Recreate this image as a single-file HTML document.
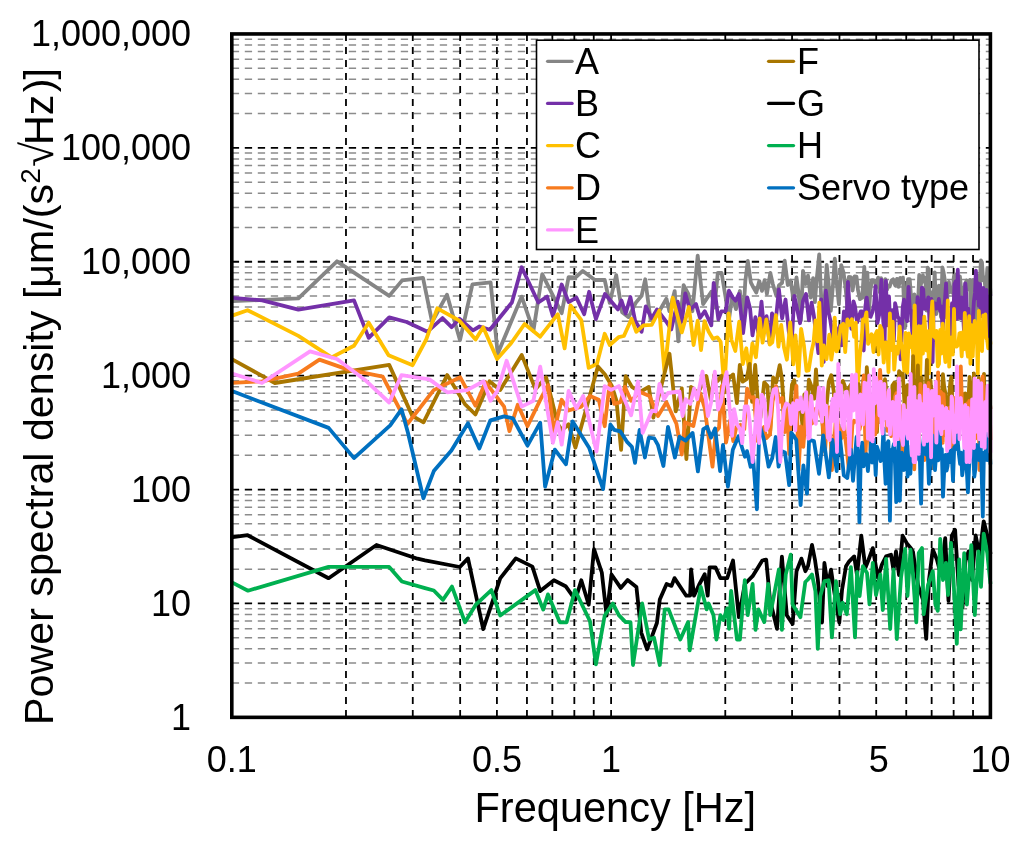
<!DOCTYPE html>
<html><head><meta charset="utf-8"><style>
html,body{margin:0;padding:0;background:#fff;}
svg{display:block;}
text{font-family:"Liberation Sans",Arial,sans-serif;fill:#000;}
</style></head><body>
<svg width="1024" height="846" viewBox="0 0 1024 846">
<rect width="1024" height="846" fill="#fff"/>
<path d="M231.8 683.06H990.4M231.8 663.01H990.4M231.8 648.78H990.4M231.8 637.74H990.4M231.8 628.72H990.4M231.8 621.09H990.4M231.8 614.49H990.4M231.8 608.66H990.4M231.8 569.16H990.4M231.8 549.11H990.4M231.8 534.88H990.4M231.8 523.84H990.4M231.8 514.82H990.4M231.8 507.19H990.4M231.8 500.59H990.4M231.8 494.76H990.4M231.8 455.26H990.4M231.8 435.21H990.4M231.8 420.98H990.4M231.8 409.94H990.4M231.8 400.92H990.4M231.8 393.29H990.4M231.8 386.69H990.4M231.8 380.86H990.4M231.8 341.36H990.4M231.8 321.31H990.4M231.8 307.08H990.4M231.8 296.04H990.4M231.8 287.02H990.4M231.8 279.39H990.4M231.8 272.79H990.4M231.8 266.96H990.4M231.8 227.46H990.4M231.8 207.41H990.4M231.8 193.18H990.4M231.8 182.14H990.4M231.8 173.12H990.4M231.8 165.49H990.4M231.8 158.89H990.4M231.8 153.06H990.4M231.8 113.56H990.4M231.8 93.51H990.4M231.8 79.28H990.4M231.8 68.24H990.4M231.8 59.22H990.4M231.8 51.59H990.4M231.8 44.99H990.4M231.8 39.16H990.4" stroke="#8c8c8c" stroke-width="1.5" stroke-dasharray="7.3 5.7" fill="none"/>
<path d="M231.8 603.45H990.4M231.8 489.55H990.4M231.8 375.65H990.4M231.8 261.75H990.4M231.8 147.85H990.4" stroke="#000" stroke-width="1.8" stroke-dasharray="7.3 5.7" fill="none"/>
<path d="M345.98 33.95V717.35M412.77 33.95V717.35M460.16 33.95V717.35M496.92 33.95V717.35M526.95 33.95V717.35M552.35 33.95V717.35M574.34 33.95V717.35M593.74 33.95V717.35M611.10 33.95V717.35M725.28 33.95V717.35M792.07 33.95V717.35M839.46 33.95V717.35M876.22 33.95V717.35M906.25 33.95V717.35M931.65 33.95V717.35M953.64 33.95V717.35M973.04 33.95V717.35" stroke="#000" stroke-width="1.8" stroke-dasharray="7.1 5.9" fill="none"/>
<g fill="none" stroke-width="3.8" stroke-linejoin="round" stroke-linecap="round">
<path d="M232.9 301.2 298.4 298.4 337.0 261.3 389.2 295.9 402.2 280.4 423.0 277.8 432.1 322.0 447.0 294.7 460.0 340.2 472.4 284.3 490.6 282.3 497.7 353.8 521.7 296.6 533.4 330.8 542.2 274.2 561.7 313.2 568.6 277.1 575.4 277.5 582.8 270.9 594.9 280.0 604.7 280.0 609.7 302.9 616.2 275.1 622.1 312.3 628.6 317.1 635.7 302.9 641.6 295.8 645.2 279.3 650.5 319.4 659.3 311.2 666.4 298.8 669.4 311.2 674.7 291.1 678.3 341.3 683.6 285.2 688.3 294.0 692.4 311.2 697.7 255.6 703.1 304.1 711.3 291.7 714.5 307.5 717.8 272.9 721.6 273.0 725.8 298.5 728.6 322.5 732.1 296.5 736.0 309.1 739.9 291.0 742.8 325.0 745.3 281.3 747.8 260.9 750.9 282.7 753.6 287.8 756.3 292.5 759.3 281.1 762.0 290.9 764.6 280.1 766.9 294.0 770.3 273.0 772.8 284.0 776.4 295.9 779.0 285.3 782.0 283.0 784.7 260.7 787.8 285.0 790.6 280.6 793.8 301.6 796.5 277.5 798.4 291.6 800.9 320.3 803.0 270.8 805.7 284.0 808.0 275.7 810.7 297.6 813.1 278.2 814.9 302.2 816.7 279.3 819.2 254.4 821.3 299.5 824.2 307.4 826.7 264.9 828.6 283.4 830.8 310.8 833.0 284.6 834.8 258.6 836.4 279.9 838.9 304.4 841.2 265.1 843.6 272.9 845.5 287.3 847.1 304.0 848.8 277.0 850.8 277.1 852.6 290.5 854.6 276.4 856.5 276.6 858.0 290.2 859.9 299.1 862.2 297.6 864.3 267.0 865.9 302.1 867.4 272.7 868.7 316.2 870.3 291.1 871.8 280.2 873.2 280.2 874.6 280.8 876.2 287.0 878.1 277.6 879.8 292.3 881.1 278.2 882.5 299.4 883.9 304.0 885.3 279.2 887.1 289.4 888.3 285.6 889.7 286.5 891.5 280.6 893.2 279.3 895.2 285.3 897.0 278.9 898.7 286.8 900.2 277.8 901.8 282.5 903.0 277.7 904.9 328.2 906.2 296.3 908.0 279.1 909.7 279.1 910.8 293.5 912.6 316.4 914.4 294.3 915.9 302.6 917.6 315.8 919.2 275.0 920.5 286.4 921.7 280.9 922.9 275.2 924.0 281.7 925.4 277.9 926.6 310.7 927.7 267.7 928.8 269.7 930.4 328.6 931.6 292.3 933.1 310.1 934.7 272.4 936.2 314.1 937.5 298.2 938.9 285.7 939.9 303.5 941.0 317.2 942.4 267.4 943.6 272.5 944.8 280.0 946.1 317.3 947.6 292.8 948.9 281.9 949.8 292.2 951.3 287.6 952.7 293.0 953.9 276.2 955.3 274.6 956.3 300.3 957.2 283.3 958.5 319.1 959.9 276.4 961.2 289.2 962.5 309.3 963.4 287.6 964.4 289.1 965.3 283.4 966.7 280.4 967.7 289.4 968.6 285.4 970.0 279.9 971.0 319.4 972.0 280.6 973.0 280.0 974.1 286.5 975.0 330.1 975.9 288.4 977.1 275.4 977.9 289.6 979.2 326.1 980.0 279.3 980.9 260.4 982.0 262.5 983.1 280.3 984.2 277.2 985.1 285.3 986.0 291.6 987.3 268.5 988.4 292.3 989.6 277.1 990.4 293.5" stroke="#858585"/><path d="M232.9 297.9 262.2 300.4 298.4 309.6 354.0 300.4 368.7 337.9 389.2 317.4 406.7 322.0 427.5 331.7 442.5 318.1 451.6 327.2 459.4 318.7 473.0 330.4 479.5 326.5 489.9 329.8 511.9 302.5 521.7 267.3 538.3 302.5 547.1 296.6 552.9 316.2 561.7 284.5 568.6 302.1 576.4 297.6 584.2 314.2 589.1 291.8 595.9 319.1 605.0 294.0 618.0 309.4 621.5 300.5 625.7 313.5 630.4 297.0 635.1 320.6 641.6 331.8 645.8 306.4 651.7 318.3 657.0 309.4 666.4 321.8 671.2 329.5 677.7 301.7 681.8 321.8 685.3 293.4 690.0 310.0 696.0 304.1 700.0 318.0 704.8 311.2 711.3 325.3 713.7 282.8 718.4 319.4 721.4 311.4 725.7 311.1 728.9 290.7 732.7 297.5 735.6 300.7 738.9 294.1 743.1 333.0 747.2 297.3 750.1 308.8 752.5 335.4 755.4 317.2 758.3 332.5 761.5 301.6 764.2 331.1 766.6 316.2 769.6 343.8 772.0 313.4 775.5 323.1 778.9 289.3 782.1 318.3 785.5 299.5 788.8 331.8 791.7 342.8 794.3 295.8 797.4 310.3 800.0 323.2 803.0 300.9 806.0 293.9 808.9 320.4 811.6 302.7 813.8 315.2 816.4 336.8 818.4 353.2 821.2 299.3 823.7 362.0 825.9 290.7 828.3 311.1 830.3 320.2 832.9 337.6 835.2 347.8 837.5 331.0 840.1 325.7 841.7 345.3 843.9 311.5 846.3 327.8 847.9 281.9 849.7 308.6 851.4 328.8 853.5 301.4 855.0 306.4 857.1 322.4 858.6 317.2 860.7 311.5 862.2 311.5 863.7 350.5 865.3 306.7 866.7 297.6 868.9 315.6 870.6 316.8 872.5 311.8 874.1 304.3 875.5 286.2 877.4 323.2 879.5 313.4 881.4 280.0 883.0 316.5 884.6 341.9 885.9 280.8 887.3 325.3 889.0 296.5 890.3 327.1 892.3 310.2 893.9 339.7 895.1 303.1 896.3 308.2 897.5 316.2 899.2 319.1 900.7 359.4 902.7 307.2 904.0 299.6 905.6 316.4 907.2 321.1 908.5 287.0 909.9 309.3 911.1 310.5 912.5 336.3 913.7 332.1 914.9 316.9 916.1 324.3 917.6 297.1 919.1 314.5 920.3 354.9 921.9 287.6 923.2 289.3 924.3 308.8 925.6 300.3 926.7 308.6 928.3 297.3 929.9 328.9 931.3 298.8 932.6 362.0 933.6 307.1 934.8 303.2 936.3 308.6 937.6 307.3 938.8 298.9 940.1 311.0 941.1 306.4 942.7 329.3 943.7 310.1 945.0 299.1 946.1 283.5 947.3 317.5 948.3 315.6 949.7 315.3 951.1 340.3 952.0 303.2 953.3 315.0 954.5 284.0 955.6 281.6 956.6 319.1 957.8 269.7 959.2 316.4 960.6 318.0 961.6 297.5 962.7 308.0 964.0 330.9 965.3 283.5 966.2 293.7 967.3 320.5 968.3 308.6 969.2 346.6 970.6 331.5 971.8 320.7 972.7 321.2 973.9 301.4 975.0 292.9 975.9 270.6 977.1 298.5 977.9 283.2 978.8 305.8 980.1 284.2 981.1 316.2 982.4 313.8 983.3 287.8 984.3 335.7 985.5 313.3 986.4 289.8 987.3 306.9 988.4 338.0 989.4 298.3 990.4 295.1" stroke="#7430A8"/><path d="M232.9 315.4 247.6 310.2 298.4 335.9 331.6 357.4 354.0 345.7 368.7 322.7 388.6 355.2 412.6 365.2 426.2 339.5 437.3 308.3 459.4 320.7 475.6 339.5 483.2 327.2 497.1 359.0 510.9 343.5 524.6 324.0 540.2 336.7 557.8 314.2 564.6 348.4 570.5 305.4 581.3 320.1 588.7 367.9 596.9 364.0 604.7 333.8 609.7 345.0 618.6 337.2 623.9 336.0 631.6 318.8 636.3 331.8 643.4 325.3 651.7 324.8 659.3 310.6 664.5 371.8 672.7 297.6 681.8 332.4 688.9 307.0 693.6 345.0 697.7 320.6 701.0 350.0 704.5 321.2 708.7 331.8 712.9 338.7 717.4 337.3 720.7 341.9 724.4 388.0 728.6 313.3 731.5 340.0 735.3 351.0 739.2 321.7 742.8 364.2 746.3 348.3 749.2 371.9 752.4 343.4 755.9 357.2 759.7 318.5 762.6 342.7 766.3 319.5 769.8 344.6 772.3 342.3 775.9 315.1 778.4 346.7 781.2 325.0 784.1 347.9 786.9 359.7 790.2 322.4 793.3 364.3 795.5 335.4 798.5 375.9 801.1 328.8 803.9 345.3 806.5 370.9 808.6 370.5 811.6 351.1 813.5 342.9 815.5 320.4 817.6 341.4 819.3 302.7 821.8 365.6 823.8 345.4 826.5 359.2 829.3 334.7 831.3 359.7 832.9 349.0 834.7 317.6 836.5 351.4 838.1 348.3 840.7 326.4 843.2 323.7 845.2 352.0 847.4 319.4 849.5 325.1 851.9 319.3 854.1 336.8 855.8 322.6 857.7 387.3 859.7 357.3 861.6 339.1 863.0 319.5 864.5 321.5 866.4 312.4 868.1 343.9 870.1 337.6 871.5 334.3 873.5 352.0 875.2 335.0 877.0 331.0 878.6 354.5 880.2 326.0 881.8 329.8 883.7 362.6 885.6 342.3 887.1 344.1 888.5 372.2 889.9 313.5 891.2 350.0 892.7 321.7 894.2 369.7 896.1 346.8 897.8 353.6 899.7 326.5 900.9 342.6 902.5 351.1 904.3 371.0 905.6 332.8 907.2 372.9 908.9 333.4 910.2 347.0 911.9 336.5 913.3 356.3 914.7 305.4 915.9 362.1 917.0 376.0 918.8 326.1 920.1 380.9 921.3 326.4 922.9 353.6 924.3 316.6 925.5 332.0 926.6 350.6 928.0 331.5 929.1 373.4 930.7 325.1 932.3 301.4 933.9 336.5 935.4 337.7 936.4 331.0 937.8 366.4 939.0 364.0 940.2 330.0 941.3 353.5 942.7 323.7 943.9 347.0 945.4 362.0 946.4 350.6 947.8 300.5 949.2 366.7 950.7 340.6 951.6 337.4 952.8 354.7 954.0 309.0 954.9 345.1 955.8 346.5 956.7 346.6 958.2 344.5 959.4 333.5 960.4 332.9 961.7 356.3 962.9 332.1 963.9 349.3 964.8 312.9 965.9 329.9 966.8 347.8 968.0 356.7 969.2 316.2 970.4 363.8 971.5 325.1 972.7 356.3 973.7 332.9 974.7 321.0 975.8 337.4 976.8 333.3 977.8 373.5 978.8 310.9 980.1 343.7 981.1 326.3 982.0 351.1 983.2 315.5 984.4 325.4 985.4 314.5 986.3 338.4 987.1 339.0 988.2 348.3 989.1 342.4 990.3 341.9 990.4 343.9" stroke="#FFC000"/><path d="M232.7 359.6 274.9 383.0 389.2 364.9 412.3 415.9 423.5 422.3 447.2 375.1 464.9 404.1 475.4 414.5 489.5 381.3 500.2 390.0 521.7 354.9 535.4 389.1 546.1 377.3 557.8 424.2 562.0 430.0 568.6 424.2 575.4 447.7 597.9 366.6 605.0 374.6 611.9 386.1 616.5 400.7 621.1 449.8 625.7 376.1 631.9 386.9 640.0 392.0 648.8 386.9 653.4 417.6 663.4 377.6 669.5 353.8 675.7 411.4 681.8 388.4 686.4 459.1 691.0 386.9 698.0 393.0 706.4 376.1 710.9 399.9 714.4 374.6 717.2 381.4 721.5 375.8 724.9 392.3 729.1 378.5 733.1 374.4 736.9 403.1 739.8 364.8 742.7 381.6 746.6 379.2 749.6 363.9 752.1 401.9 755.2 364.8 757.7 400.0 760.5 417.5 764.2 382.4 767.4 385.7 770.2 430.7 773.1 377.5 776.2 382.4 779.7 365.1 781.8 378.0 784.3 412.0 787.1 426.0 789.8 413.3 792.0 384.6 794.2 380.2 796.8 400.4 799.8 402.1 802.6 426.2 804.4 394.4 806.7 414.7 808.9 379.7 811.2 385.7 814.1 398.6 816.0 369.4 818.2 407.4 821.0 393.7 823.8 448.0 826.2 409.1 828.8 381.8 831.3 375.3 833.7 391.0 835.7 421.5 837.6 410.2 839.7 395.8 841.2 384.0 842.9 380.9 844.7 385.6 846.7 407.4 848.6 388.5 851.0 384.5 852.9 386.0 854.8 406.4 856.6 409.5 858.8 384.1 861.1 421.0 863.4 379.5 865.1 414.0 866.8 367.2 869.0 397.6 870.6 417.1 872.0 395.9 873.4 396.6 875.3 387.7 877.0 432.2 878.3 383.9 879.8 422.0 881.4 388.6 883.4 404.9 885.0 379.1 886.3 390.2 888.1 404.7 889.8 413.7 891.1 418.7 892.4 385.6 894.4 382.5 896.1 394.0 897.9 388.8 899.1 371.2 901.0 373.4 902.8 373.8 904.6 406.3 905.8 438.9 907.3 385.2 909.0 385.3 910.6 402.7 911.8 414.9 913.1 356.1 914.9 432.5 916.2 418.0 917.9 365.5 919.0 417.3 920.1 409.7 921.6 377.4 922.6 407.2 923.7 415.6 925.4 403.0 926.9 359.9 928.2 427.8 929.3 414.0 930.6 380.5 931.7 403.9 932.7 394.7 934.1 398.2 935.2 397.0 936.5 410.4 937.7 401.4 939.1 413.4 940.6 390.8 941.8 405.1 942.9 374.2 944.2 387.1 945.2 392.3 946.4 417.4 947.6 425.6 948.9 399.3 950.3 382.1 951.4 377.0 952.7 412.0 954.0 398.3 955.1 405.4 956.5 402.2 957.4 398.3 958.5 393.1 959.4 373.3 960.4 392.8 961.6 415.5 962.7 394.2 964.0 408.7 965.2 393.3 966.1 445.7 967.0 439.0 968.4 400.7 969.6 376.9 970.8 396.9 971.7 422.7 973.0 407.6 973.9 373.5 975.1 400.2 976.3 437.8 977.6 395.0 978.8 378.0 979.7 398.0 980.7 399.1 981.5 406.2 982.8 400.4 984.0 373.9 984.8 417.2 985.7 409.5 986.4 402.3 987.6 425.6 988.5 416.4 989.3 393.1 990.4 408.4" stroke="#A87600"/><path d="M232.7 382.8 262.0 381.3 298.3 373.7 319.4 359.6 348.0 369.6 382.7 376.7 407.4 424.0 433.7 390.1 460.1 377.2 475.4 405.7 485.5 382.2 504.1 406.6 509.4 431.1 517.8 404.7 527.5 426.2 542.2 395.9 548.0 385.2 553.9 432.0 561.7 399.8 568.6 410.5 581.3 406.6 590.0 395.9 598.8 399.8 604.7 426.2 609.6 383.8 614.2 403.8 620.4 402.2 625.0 386.9 631.1 400.7 640.0 392.0 649.5 396.1 658.0 416.0 666.4 402.2 676.4 423.7 681.8 454.5 684.9 422.2 693.3 426.0 700.2 393.0 704.8 408.4 712.5 466.7 715.8 431.8 719.0 427.8 721.9 386.0 726.1 442.5 730.2 420.1 733.3 441.2 736.3 427.1 740.4 424.8 744.3 429.1 747.1 388.6 750.1 397.6 753.9 397.2 757.6 441.0 761.0 431.4 764.0 427.0 766.4 438.2 770.0 434.5 772.6 401.2 776.1 386.2 779.4 401.9 782.2 397.8 784.8 432.0 787.1 406.8 789.2 454.2 791.2 407.8 793.9 407.7 796.4 385.9 798.6 470.0 801.0 426.4 803.3 446.8 805.6 417.3 808.1 403.0 811.0 424.0 813.1 422.4 815.7 408.7 817.9 409.8 819.8 413.2 822.3 419.6 825.0 452.2 827.8 410.3 829.4 407.4 831.9 470.0 834.0 446.6 836.4 409.8 838.3 426.6 840.0 440.2 842.0 437.2 843.5 414.4 845.1 436.7 847.0 451.8 848.8 469.2 850.7 453.8 852.4 424.9 854.0 420.7 856.1 421.8 858.0 423.2 859.7 429.3 861.6 417.9 863.7 375.3 865.6 453.6 867.1 414.0 868.9 421.3 870.5 450.3 872.3 397.3 873.6 417.6 875.1 434.6 876.6 426.4 878.0 411.1 880.1 369.8 881.7 397.0 883.7 400.7 885.6 392.9 887.3 430.9 889.2 426.5 891.2 436.1 892.9 410.8 894.8 398.1 896.4 393.2 898.1 412.6 900.0 405.4 901.9 470.0 903.8 445.1 905.4 464.5 906.6 431.4 908.5 414.9 909.7 412.7 911.3 391.8 913.1 405.8 914.3 469.3 915.4 419.1 917.1 448.9 918.8 445.6 920.4 383.9 921.6 406.8 923.1 400.1 924.7 460.0 926.1 414.0 927.1 417.3 928.5 383.0 930.0 421.2 931.1 398.5 932.4 447.7 933.4 440.4 934.5 389.9 935.8 395.3 937.0 445.4 938.1 372.3 939.1 423.0 940.2 391.4 941.4 392.7 942.7 442.9 943.6 394.2 945.1 424.5 946.6 436.4 947.8 422.2 949.2 407.8 950.3 433.9 951.4 439.7 952.6 447.9 953.5 402.2 954.6 398.3 955.9 412.3 957.1 433.4 958.5 425.9 959.5 425.0 960.8 366.4 962.0 406.1 963.4 408.2 964.5 434.8 965.9 410.0 967.2 403.4 968.1 405.4 969.3 401.0 970.2 444.0 971.1 444.1 972.0 451.2 973.3 401.8 974.3 439.9 975.5 437.7 976.8 431.1 977.7 409.0 978.6 404.9 979.5 470.0 980.7 425.2 981.9 438.3 982.7 376.4 983.8 394.6 985.1 418.9 986.2 429.4 987.3 416.2 988.4 417.2 989.6 393.0 990.4 439.5" stroke="#F77B1E"/><path d="M232.7 391.3 328.6 427.9 354.0 458.1 390.2 425.3 401.5 409.3 408.0 433.0 423.4 498.2 433.8 471.1 451.4 450.6 468.0 423.2 479.3 448.6 490.4 420.3 504.1 416.4 512.9 418.4 527.5 445.7 540.2 422.7 545.1 486.7 554.9 449.6 566.0 464.3 572.5 421.3 589.1 447.7 603.1 489.1 610.4 424.5 614.2 429.9 620.4 431.4 627.3 442.2 631.9 446.8 635.0 462.9 639.6 429.9 644.9 457.5 648.8 437.6 654.2 438.3 658.0 445.2 663.4 466.0 668.0 426.8 674.9 457.5 679.5 436.8 685.6 440.6 692.6 432.9 697.9 471.4 703.3 429.1 707.2 426.8 711.0 437.6 715.1 428.4 720.1 471.0 723.0 445.0 727.9 486.6 732.8 449.7 738.5 436.2 744.9 456.8 747.0 451.1 750.6 466.7 752.7 452.6 756.9 509.3 759.4 424.2 764.0 440.0 768.6 466.7 772.2 458.2 775.7 437.0 778.6 466.7 781.4 451.1 785.0 452.6 789.2 485.2 791.3 432.7 796.3 439.8 800.6 505.0 803.4 465.3 807.0 493.7 809.1 439.8 814.0 441.2 819.0 473.8 823.2 435.5 828.9 477.4 832.4 439.8 836.7 471.0 839.5 432.7 843.8 475.2 847.3 478.1 850.9 449.7 853.0 480.9 856.6 437.0 858.0 453.8 859.4 522.1 860.8 456.6 862.2 442.6 863.6 466.3 865.0 455.0 866.5 454.2 867.9 471.0 869.1 455.3 870.2 457.4 871.4 435.5 872.1 462.5 874.0 440.0 875.7 475.2 876.9 446.7 878.0 450.0 879.3 455.5 880.6 461.1 882.0 458.7 883.5 428.4 884.5 463.2 885.6 483.8 887.0 444.1 888.4 441.2 889.9 520.6 891.3 449.8 892.7 449.7 893.9 443.9 895.0 463.9 896.2 502.2 897.4 460.7 898.6 442.5 899.8 500.8 900.8 468.9 901.9 452.6 903.0 468.4 904.0 470.0 905.5 459.7 906.9 431.3 907.6 476.7 909.0 458.7 910.4 473.8 911.5 445.7 912.6 444.0 913.7 441.6 914.9 456.3 916.0 460.0 917.0 442.8 918.0 440.0 919.5 446.5 921.1 503.6 922.3 448.0 923.4 441.9 924.6 427.0 925.7 454.5 926.7 427.0 927.8 453.8 928.9 483.8 930.1 465.6 931.2 456.1 932.4 435.5 933.7 459.7 935.0 470.0 936.0 455.6 937.0 440.0 938.2 460.4 939.5 431.3 940.7 454.4 941.8 449.0 943.0 496.6 944.2 470.6 945.5 455.0 946.6 470.6 947.6 465.9 948.7 451.2 950.1 462.0 951.6 450.1 953.0 481.0 954.2 447.5 955.3 449.3 956.5 427.0 957.8 442.6 959.0 455.0 960.1 463.9 961.1 452.7 962.2 475.3 963.4 466.5 964.5 452.3 965.7 437.0 966.8 470.0 967.9 492.3 969.1 466.6 970.2 440.3 971.4 425.6 972.8 446.8 974.3 476.7 975.4 468.8 976.5 445.0 977.8 455.0 979.0 460.0 980.5 440.0 981.6 471.1 982.8 516.5 983.9 452.7 985.0 460.0 986.2 442.4 987.3 460.1 988.5 424.2 990.4 464.0" stroke="#0070C0"/><path d="M232.9 537.2 247.6 535.2 328.6 578.2 376.5 545.0 417.5 558.7 425.0 560.4 459.8 567.0 468.0 558.4 483.2 629.1 492.4 601.8 500.2 578.4 515.8 558.4 532.4 566.6 540.2 591.1 553.9 580.3 565.6 586.2 575.4 599.8 581.3 580.3 588.7 604.7 594.0 549.1 601.8 572.5 606.6 615.5 611.5 574.5 620.7 587.9 627.6 580.1 636.4 586.9 641.3 632.8 647.1 649.4 656.9 623.0 659.8 599.6 666.6 584.0 671.5 585.9 674.5 578.1 686.2 595.7 690.1 595.7 691.1 569.3 694.0 595.7 699.0 585.0 704.7 574.2 707.7 595.7 709.6 567.4 715.5 567.4 720.4 578.1 727.2 578.1 733.0 560.5 738.9 617.2 744.8 584.0 752.6 576.2 762.3 560.5 766.2 559.6 770.0 600.0 777.0 628.9 781.9 556.6 786.8 615.2 792.6 624.0 796.5 571.3 801.4 558.6 805.4 571.2 808.0 566.0 812.0 544.8 815.0 560.0 817.8 579.5 822.0 622.5 824.4 563.0 827.8 586.1 831.0 569.6 834.0 590.0 839.3 622.5 842.0 590.0 846.0 566.3 849.2 561.3 854.2 556.4 857.0 575.0 861.3 535.7 865.4 567.9 868.5 560.0 872.8 548.1 877.8 577.8 881.9 564.6 886.1 556.3 891.0 554.7 893.5 570.0 896.0 551.4 899.0 575.0 902.6 535.7 906.7 543.1 910.9 548.1 913.0 552.0 918.0 585.0 923.0 600.0 926.2 638.9 929.0 580.0 932.8 549.6 936.9 559.5 941.0 575.0 945.2 538.1 948.5 600.9 951.8 535.6 955.1 529.8 958.5 585.0 962.5 607.5 965.5 560.0 968.6 551.4 972.0 580.0 975.7 535.5 979.5 555.0 983.7 521.3 987.3 535.5 990.4 553.2" stroke="#000000"/><path d="M232.9 582.9 248.0 590.7 328.6 566.9 389.2 566.9 401.9 581.5 425.0 588.1 433.8 590.5 443.0 599.8 452.0 586.6 465.0 622.3 475.8 604.7 491.4 590.1 500.2 615.5 535.4 590.1 543.2 609.6 548.0 594.4 559.8 622.3 566.6 622.3 575.0 590.1 590.0 621.3 595.9 664.3 604.7 615.5 612.9 603.5 618.8 615.2 625.6 622.1 630.5 622.1 633.0 665.0 642.2 603.5 649.1 639.6 654.0 637.7 659.8 665.0 664.7 609.4 668.6 609.4 680.3 639.6 688.1 622.1 689.7 650.4 700.8 586.9 706.7 609.4 708.6 603.5 713.5 615.2 716.4 639.6 720.4 615.2 723.3 620.1 727.2 608.4 729.1 628.9 731.1 590.8 737.0 639.6 739.9 639.6 744.8 580.1 747.7 615.2 752.6 584.0 755.5 629.9 758.4 609.4 764.3 622.1 768.2 584.0 770.2 615.2 778.9 569.3 781.9 629.9 785.8 574.2 790.7 554.7 792.6 604.5 800.4 617.2 805.3 582.0 807.9 579.5 812.0 574.5 815.4 591.1 817.8 648.9 820.3 596.0 824.4 581.2 828.6 580.3 831.9 637.4 836.0 581.2 840.1 614.2 842.6 602.6 846.8 614.2 850.9 567.1 855.0 637.4 857.1 572.0 859.6 596.0 862.9 566.2 867.0 572.9 869.5 604.3 872.8 563.0 876.0 595.0 880.3 574.5 882.8 610.0 886.1 558.8 890.2 629.0 893.5 569.5 896.8 639.0 901.0 577.8 905.1 548.9 907.5 596.0 910.5 549.6 913.0 575.0 916.3 622.4 918.7 553.0 922.0 548.0 923.7 614.1 928.0 585.0 932.8 571.1 935.5 605.0 937.8 610.8 940.2 538.9 943.0 580.0 946.0 562.9 948.0 595.0 951.0 543.0 953.5 580.0 956.8 643.8 959.2 559.5 960.7 629.4 964.2 553.2 966.9 604.6 971.3 545.2 974.8 615.2 978.4 551.4 981.0 586.9 983.7 533.7 987.3 553.2 990.4 583.3" stroke="#00B050"/><path d="M232.7 373.7 262.0 383.0 310.0 351.4 337.0 359.0 365.0 379.9 389.2 402.5 401.5 375.1 429.4 379.4 447.2 392.3 467.0 390.1 483.6 381.3 490.4 400.8 497.3 391.0 506.6 360.7 521.7 406.6 533.4 400.8 540.2 366.6 552.9 442.8 557.8 422.3 561.7 444.7 568.6 391.0 576.4 408.6 583.2 395.9 596.5 451.6 604.7 386.1 611.1 389.9 618.8 386.1 631.1 415.3 638.0 381.5 642.6 432.9 651.9 410.7 655.7 411.4 659.5 383.8 664.1 399.2 668.0 393.0 679.5 391.5 682.6 416.0 685.6 399.2 690.3 403.8 694.1 388.4 697.2 399.2 702.5 371.5 707.9 416.0 711.1 402.4 714.8 371.7 718.1 409.5 720.9 402.4 724.4 380.8 726.6 372.2 729.3 405.4 732.1 435.8 734.1 409.1 737.2 424.8 740.1 429.3 742.2 443.2 744.8 406.4 747.7 406.5 749.7 421.2 752.6 462.0 754.6 437.0 757.1 399.8 759.1 443.2 761.8 394.7 764.5 400.2 766.3 430.1 768.0 426.9 770.3 415.2 771.8 398.1 773.7 389.4 776.1 388.4 778.1 409.4 780.3 462.0 781.8 432.6 784.0 409.6 786.2 403.5 788.0 404.4 789.4 405.6 791.0 424.2 793.1 403.2 795.3 430.4 796.9 400.4 798.8 409.3 800.7 397.5 802.7 412.1 804.8 403.1 806.2 392.1 808.2 438.7 809.7 437.7 811.2 395.8 812.7 412.5 814.1 417.5 815.8 423.8 817.0 407.6 819.0 387.4 820.3 403.6 822.0 421.7 823.4 388.0 824.6 414.1 826.1 405.5 827.9 437.8 829.7 439.9 831.2 411.3 832.6 398.9 833.8 420.9 835.2 394.3 837.0 452.0 838.3 363.8 839.7 405.6 840.9 385.5 842.2 424.3 843.9 429.2 845.5 392.0 846.8 391.6 847.8 403.9 849.4 454.6 850.6 419.1 852.0 374.8 853.4 410.5 854.7 389.8 855.9 374.4 857.2 413.2 858.3 445.1 859.6 399.3 860.5 394.5 861.8 404.8 863.0 424.7 864.4 382.7 865.5 388.9 866.8 383.4 867.9 438.6 869.2 375.5 870.6 439.9 871.8 403.0 872.7 441.4 873.8 369.1 875.0 403.5 876.0 377.7 877.2 383.7 878.3 395.3 879.4 415.5 880.6 381.6 881.4 424.9 882.6 433.5 883.5 398.8 884.3 383.9 885.3 411.2 886.2 418.5 887.1 417.1 887.9 425.5 888.9 390.0 890.0 434.4 890.9 410.9 891.8 409.7 892.7 401.8 893.9 417.0 894.8 445.0 895.6 418.2 896.6 396.3 897.8 439.1 898.9 378.5 899.9 433.4 900.8 432.2 901.8 437.5 903.0 445.0 903.8 405.0 904.9 422.8 905.9 410.6 906.9 433.5 908.0 438.6 908.8 397.7 909.6 418.3 910.7 374.0 911.8 455.5 912.7 407.3 913.6 462.0 914.4 386.9 915.3 462.0 916.1 400.9 917.0 412.7 917.8 401.7 918.8 453.9 919.5 395.5 920.5 407.8 921.5 411.5 922.2 431.2 923.2 403.8 924.0 444.7 924.9 385.4 925.6 391.5 926.5 403.6 927.2 441.0 927.9 389.7 928.7 407.1 929.6 406.7 930.3 408.4 931.1 457.3 931.9 390.8 932.5 416.1 933.3 391.0 934.1 396.3 935.1 394.9 935.8 381.7 936.4 442.6 937.1 416.0 938.0 405.2 938.8 396.9 939.7 420.0 940.6 429.6 941.4 434.1 942.1 406.1 942.9 424.4 943.7 428.2 944.6 419.3 945.4 409.4 946.2 407.9 947.1 451.0 947.7 411.4 948.5 418.8 949.4 447.4 950.1 425.7 951.0 427.5 951.6 396.5 952.1 399.1 952.9 423.5 953.5 415.2 954.1 442.7 954.8 423.6 955.6 429.7 956.3 432.0 957.0 366.5 957.6 415.9 958.1 408.5 958.8 401.6 959.5 439.1 960.2 399.0 960.8 398.1 961.5 407.5 962.2 424.4 962.8 425.8 963.5 429.2 964.2 448.0 964.7 408.1 965.3 405.0 965.9 416.0 966.6 462.0 967.1 414.1 967.9 407.8 968.3 448.3 969.0 462.0 969.6 462.0 970.2 457.0 971.0 434.7 971.5 439.3 972.1 399.3 972.6 442.3 973.2 443.3 973.9 448.0 974.6 378.4 975.2 432.3 975.8 384.4 976.4 398.6 976.9 429.0 977.3 416.1 978.0 380.6 978.5 417.7 979.1 439.2 979.7 395.7 980.3 424.4 980.8 421.2 981.3 383.1 981.8 446.4 982.3 410.8 982.9 427.3 983.4 408.0 984.1 413.5 984.7 447.8 985.3 401.8 985.9 424.6 986.6 409.7 987.1 398.9 987.6 385.6 988.1 430.6 988.6 415.7 989.2 436.2 989.7 410.0 990.3 406.6 990.4 452.2" stroke="#FF96FF"/>
</g>
<rect x="536.5" y="40.2" width="442.5" height="209.3" fill="#fff" stroke="#000" stroke-width="1.6"/>
<g font-size="37.4">
<path d="M547.6 61.3H572.1" stroke="#858585" stroke-width="3.3" stroke-linecap="round"/><text transform="translate(575 73.9) scale(0.963 1)">A</text><path d="M547.6 103.4H572.1" stroke="#7430A8" stroke-width="3.3" stroke-linecap="round"/><text transform="translate(575 116.0) scale(0.963 1)">B</text><path d="M547.6 145.6H572.1" stroke="#FFC000" stroke-width="3.3" stroke-linecap="round"/><text transform="translate(575 158.2) scale(0.963 1)">C</text><path d="M547.6 187.8H572.1" stroke="#F77B1E" stroke-width="3.3" stroke-linecap="round"/><text transform="translate(575 200.3) scale(0.963 1)">D</text><path d="M547.6 229.9H572.1" stroke="#FF96FF" stroke-width="3.3" stroke-linecap="round"/><text transform="translate(575 242.5) scale(0.963 1)">E</text><path d="M768.6 61.3H793.5" stroke="#A87600" stroke-width="3.3" stroke-linecap="round"/><text transform="translate(797 73.9) scale(0.963 1)">F</text><path d="M768.6 103.4H793.5" stroke="#000000" stroke-width="3.3" stroke-linecap="round"/><text transform="translate(797 116.0) scale(0.963 1)">G</text><path d="M768.6 145.6H793.5" stroke="#00B050" stroke-width="3.3" stroke-linecap="round"/><text transform="translate(797 158.2) scale(0.963 1)">H</text><path d="M768.6 187.8H793.5" stroke="#0070C0" stroke-width="3.3" stroke-linecap="round"/><text transform="translate(797 200.3) scale(0.963 1)">Servo type</text>
</g>
<rect x="231.80" y="33.95" width="758.60" height="683.40" fill="none" stroke="#000" stroke-width="3.6"/>
<g font-size="37.3">
<text transform="translate(191 729.5) scale(0.965 1)" text-anchor="end">1</text><text transform="translate(191 615.6) scale(0.965 1)" text-anchor="end">10</text><text transform="translate(191 501.7) scale(0.965 1)" text-anchor="end">100</text><text transform="translate(191 387.8) scale(0.965 1)" text-anchor="end">1,000</text><text transform="translate(191 273.9) scale(0.965 1)" text-anchor="end">10,000</text><text transform="translate(191 160.0) scale(0.965 1)" text-anchor="end">100,000</text><text transform="translate(191 46.0) scale(0.965 1)" text-anchor="end">1,000,000</text>
<text transform="translate(231.8 771.8) scale(0.965 1)" text-anchor="middle">0.1</text><text transform="translate(496.9 771.8) scale(0.965 1)" text-anchor="middle">0.5</text><text transform="translate(611.1 771.8) scale(0.965 1)" text-anchor="middle">1</text><text transform="translate(878.7 771.8) scale(0.965 1)" text-anchor="middle">5</text><text transform="translate(990.4 771.8) scale(0.965 1)" text-anchor="middle">10</text>
</g>
<text transform="translate(615.3 822) scale(0.98 1)" font-size="42.4" text-anchor="middle">Frequency [Hz]</text>
<text transform="translate(52.5,724.9) rotate(-90)" font-size="41.2">Power spectral density [μm/(s<tspan dy="-12.5" font-size="28">2</tspan><tspan dy="12.5" dx="1.5" font-size="45" font-family="Liberation Serif">√</tspan><tspan dx="-3">Hz</tspan><tspan dx="2.5">)</tspan><tspan dx="-1">]</tspan></text>
</svg>
</body></html>
